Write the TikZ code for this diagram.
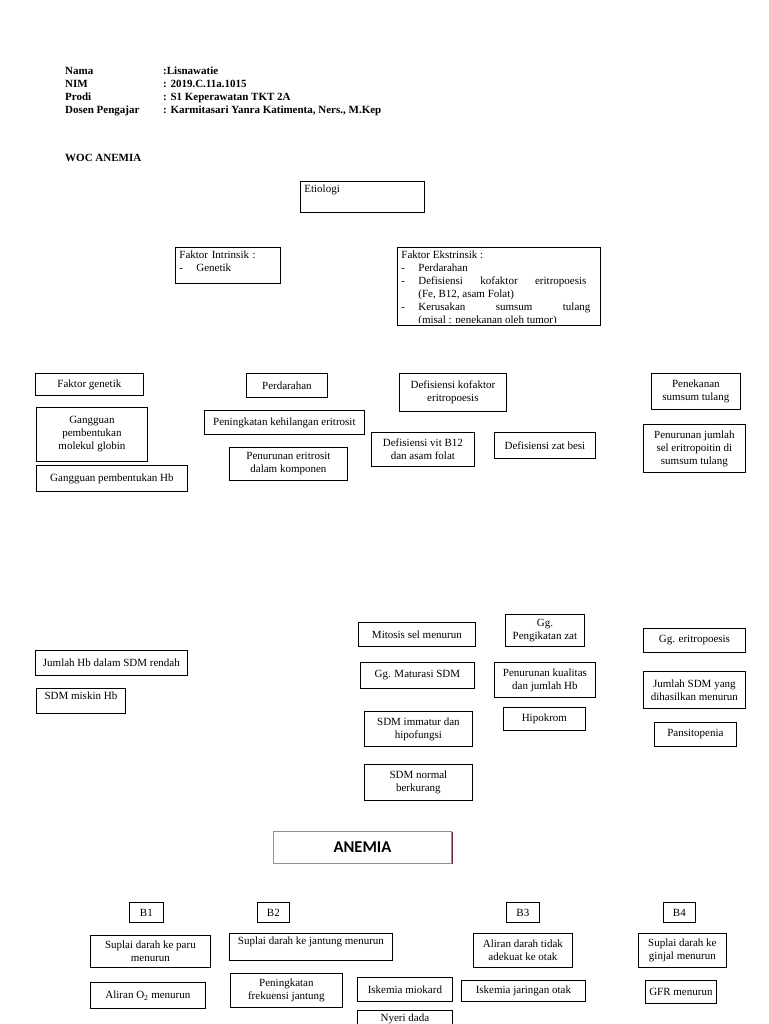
\documentclass[tikz,border=0pt]{standalone}
\usepackage{fontspec}
\setmainfont{Liberation Serif}
\newfontfamily\anemiafont{Carlito}
\usetikzlibrary{positioning,shadows}

\definecolor{anemiaedge}{RGB}{190,125,125}
\definecolor{anemiashadow}{RGB}{115,40,50}

\newcommand{\dash}{\makebox[17pt][l]{-}}
\newcommand{\ind}{\hspace*{17pt}}

\tikzset{
  box/.style={draw, line width=0.8pt, anchor=north west, inner sep=2pt,
    align=center, font=\fontsize{11}{13}\selectfont},
  leftbox/.style={box, align=left},
  header/.style={anchor=base west, inner sep=0pt, font=\bfseries\fontsize{11}{13}\selectfont},
  anemiabox/.style={draw=anemiaedge, line width=0.9pt, fill=white, anchor=north west,
    font=\anemiafont\bfseries\fontsize{16.5}{18}\selectfont,
    drop shadow={shadow xshift=1.8pt, shadow yshift=-0.6pt, fill=anemiashadow, opacity=1}},
}

\begin{document}
\begin{tikzpicture}[x=1pt, y=-1pt]
  \useasboundingbox (0,0) rectangle (768,1024);

  % identitas
  \node[header] (nama) at (65,75) {Nama};
  \node[header] (nim) at (65,88) {NIM};
  \node[header] (prodi) at (65,101) {Prodi};
  \node[header] (dosen) at (65,114) {Dosen Pengajar};
  \node[header] (namaisi) at (163,75) {:Lisnawatie};
  \node[header] (nimisi) at (163,88) {: 2019.C.11a.1015};
  \node[header] (prodiisi) at (163,101) {: S1 Keperawatan TKT 2A};
  \node[header] (dosenisi) at (163,114) {: Karmitasari Yanra Katimenta, Ners., M.Kep};
  \node[header] (judul) at (65,162) {WOC ANEMIA};

  % etiologi
  \node[leftbox, minimum width=124pt, minimum height=31pt, text height=9pt, text depth=18pt,
    text width=116pt] (etiologi) at (300,181) {Etiologi};
  \node[leftbox, minimum width=105pt, minimum height=35pt, text height=9pt, text depth=23pt,
    text width=97pt] (intrinsik) at (175,247) {Faktor Intrinsik :\\ \dash Genetik};
  \node[box, minimum width=203pt, minimum height=78pt] (ekstrinsik) at (397,247) {};
  \begin{scope}
    \clip ([yshift=-1pt]ekstrinsik.north west) rectangle ([yshift=3pt]ekstrinsik.south east);
    \node[leftbox, draw=none, inner sep=0pt] (ekstrinsiktext) at (401,250)
      {Faktor Ekstrinsik :\\
       \dash Perdarahan\\
       \dash\makebox[168pt][s]{Defisiensi\hfill kofaktor\hfill eritropoesis}\\
       \ind(Fe, B12, asam Folat)\\
       \dash\makebox[172pt][s]{Kerusakan\hfill sumsum\hfill tulang}\\
       \ind(misal : penekanan oleh tumor)};
  \end{scope}

  % faktor genetik
  \node[box, minimum width=108pt, minimum height=22pt] (genetik) at (35,373) {Faktor genetik};
  \node[box, minimum width=111pt, minimum height=54pt] (globin) at (36,407)
    {Gangguan\\ pembentukan\\ molekul globin};
  \node[box, minimum width=151pt, minimum height=26pt] (hb) at (36,465) {Gangguan pembentukan Hb};

  % perdarahan
  \node[box, minimum width=81pt, minimum height=24pt] (perdarahan) at (246,373) {Perdarahan};
  \node[box, minimum width=160pt, minimum height=24pt] (kehilangan) at (204,410)
    {Peningkatan kehilangan eritrosit};
  \node[box, minimum width=118pt, minimum height=33pt] (komponen) at (229,447)
    {Penurunan eritrosit\\ dalam komponen};

  % defisiensi
  \node[box, minimum width=107pt, minimum height=38pt] (kofaktor) at (399,373)
    {Defisiensi kofaktor\\ eritropoesis};
  \node[box, minimum width=103pt, minimum height=34pt] (vitbdua) at (371,432)
    {Defisiensi vit B12\\ dan asam folat};
  \node[box, minimum width=101pt, minimum height=26pt] (zatbesi) at (494,432) {Defisiensi zat besi};

  % sumsum tulang
  \node[box, minimum width=89pt, minimum height=36pt] (penekanan) at (651,373)
    {Penekanan\\ sumsum tulang};
  \node[box, minimum width=102pt, minimum height=48pt] (eritropoitin) at (643,424)
    {Penurunan jumlah\\ sel eritropoitin di\\ sumsum tulang};

  % hasil
  \node[leftbox, minimum width=152pt, minimum height=25pt] (rendah) at (35,650)
    {Jumlah Hb dalam SDM rendah};
  \node[leftbox, minimum width=89pt, minimum height=25pt, text height=9pt, text depth=12pt]
    (miskin) at (36,688) {SDM miskin Hb};
  \node[box, minimum width=117pt, minimum height=24pt] (mitosis) at (358,622) {Mitosis sel menurun};
  \node[box, minimum width=114pt, minimum height=26pt] (maturasi) at (360,662) {Gg. Maturasi SDM};
  \node[box, minimum width=108pt, minimum height=35pt] (immatur) at (364,711)
    {SDM immatur dan\\ hipofungsi};
  \node[box, minimum width=108pt, minimum height=36pt] (normal) at (364,764)
    {SDM normal\\ berkurang};
  \node[box, minimum width=79pt, minimum height=32pt] (pengikatan) at (505,614)
    {Gg.\\ Pengikatan zat};
  \node[box, minimum width=101pt, minimum height=35pt] (kualitas) at (494,662)
    {Penurunan kualitas\\ dan jumlah Hb};
  \node[box, minimum width=82pt, minimum height=23pt] (hipokrom) at (503,707) {Hipokrom};
  \node[box, minimum width=102pt, minimum height=24pt] (ggeritro) at (643,628) {Gg. eritropoesis};
  \node[box, minimum width=102pt, minimum height=37pt] (jumlahsdm) at (643,671)
    {Jumlah SDM yang\\ dihasilkan menurun};
  \node[box, minimum width=82pt, minimum height=24pt] (pansitopenia) at (654,722) {Pansitopenia};

  % anemia
  \node[anemiabox, minimum width=178pt, minimum height=32pt] (anemia) at (273,831) {ANEMIA};

  % B1 - B4
  \node[box, minimum width=34pt, minimum height=20pt] (bsatu) at (129,902) {B1};
  \node[box, minimum width=32pt, minimum height=20pt] (bdua) at (257,902) {B2};
  \node[box, minimum width=33pt, minimum height=20pt] (btiga) at (506,902) {B3};
  \node[box, minimum width=32pt, minimum height=20pt] (bempat) at (663,902) {B4};

  \node[box, minimum width=120pt, minimum height=32pt] (paru) at (90,935)
    {Suplai darah ke paru\\ menurun};
  \node[box, minimum width=115pt, minimum height=26pt] (oksigen) at (90,982)
    {Aliran O\textsubscript{2} menurun};
  \node[leftbox, minimum width=163pt, minimum height=27pt, text height=9pt, text depth=13pt]
    (jantung) at (229,933) {Suplai darah ke jantung menurun};
  \node[box, minimum width=112pt, minimum height=34pt] (frekuensi) at (230,973)
    {Peningkatan\\ frekuensi jantung};
  \node[box, minimum width=95pt, minimum height=24pt] (miokard) at (357,977) {Iskemia miokard};
  \node[box, minimum width=95pt, minimum height=34pt, text height=9pt, text depth=22pt]
    (nyeri) at (357,1010) {Nyeri dada};
  \node[box, minimum width=99pt, minimum height=34pt] (otak) at (473,933)
    {Aliran darah tidak\\ adekuat ke otak};
  \node[box, minimum width=124pt, minimum height=21pt] (jaringan) at (461,980)
    {Iskemia jaringan otak};
  \node[box, minimum width=88pt, minimum height=34pt] (ginjal) at (638,933)
    {Suplai darah ke\\ ginjal menurun};
  \node[leftbox, minimum width=71pt, minimum height=23pt, inner xsep=1pt] (gfr) at (645,980)
    {GFR menurun};
\end{tikzpicture}
\end{document}
